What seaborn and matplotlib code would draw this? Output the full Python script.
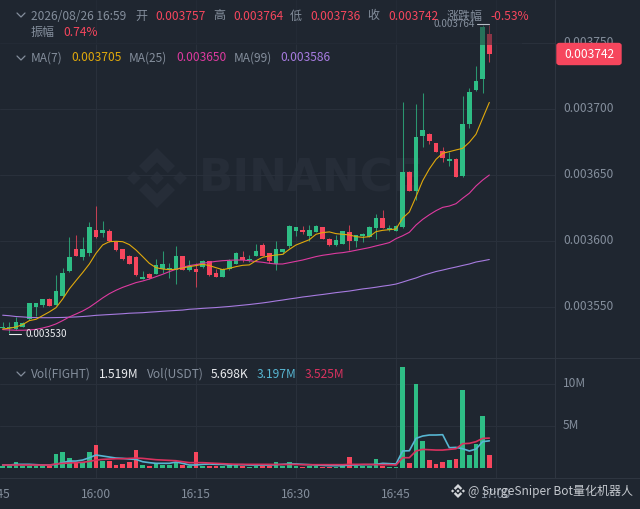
import numpy as np
import pandas as pd
import matplotlib
matplotlib.use("Agg")
import matplotlib.pyplot as plt
from matplotlib.lines import Line2D
from matplotlib.patches import FancyBboxPatch, Polygon, Rectangle
from matplotlib.ticker import FixedLocator
import seaborn as sns

# minutes after 16:00, one candle per minute
minutes = list(range(-14, 60))
# prices in units of 1e-6 USDT
opens = [3533.9,3533.9,3533.1,3535.1,3540.7,3550.3,3551.8,3555.9,3551.8,3558.6,3577.1,3593.7,3587.7,3591.0,
 3608.6,3605.9,3607.6,3599.3,3593.7,3588.7,3587.9,3571.5,3575.0,3575.0,3578.6,3578.1,3578.1,3588.7,3578.3,3578.8,
 3580.1,3584.6,3575.8,3572.8,3578.6,3582.9,3587.9,3585.4,3588.9,3596.8,3590.7,3582.4,3592.0,3596.3,3607.6,3608.4,
 3603.8,3607.1,3610.4,3601.6,3597.0,3597.8,3606.6,3600.0,3603.8,3603.3,3609.9,3617.5,3608.1,3607.8,
 3610.9,3652.5,3637.9,3679.8,3681.3,3674.3,3668.4,3660.9,3662.4,3649.5,3688.7,3714.4,3722.5,3757.0]
highs = [3538.9,3539.0,3542.2,3538.9,3552.8,3553.1,3556.4,3556.6,3574.3,3579.3,3603.3,3604.3,3603.3,3614.4,
 3626.3,3615.2,3609.4,3599.8,3594.2,3589.2,3588.7,3577.3,3575.6,3586.2,3592.5,3583.1,3596.3,3588.7,3585.6,3583.1,
 3585.6,3584.6,3578.6,3579.6,3586.2,3591.5,3592.5,3589.4,3597.5,3598.3,3591.2,3600.3,3594.0,3612.2,3610.9,3611.4,
 3612.2,3612.2,3610.9,3602.1,3604.6,3607.9,3612.4,3604.6,3606.1,3611.2,3620.2,3623.5,3612.2,3611.9,
 3705.5,3652.8,3703.8,3711.9,3682.1,3674.6,3671.5,3667.7,3662.9,3709.9,3715.7,3732.8,3764.0,3764.0]
lows = [3533.9,3530.0,3532.6,3534.6,3540.2,3543.2,3550.3,3550.8,3551.3,3557.4,3576.8,3588.9,3585.6,3588.7,
 3602.6,3603.3,3599.3,3592.5,3585.6,3582.6,3573.8,3571.3,3571.3,3574.8,3575.6,3571.8,3567.5,3578.1,3577.6,3565.5,
 3579.8,3573.5,3572.5,3572.5,3578.1,3582.6,3584.4,3584.4,3588.7,3588.7,3583.1,3578.3,3590.2,3594.5,3604.1,3605.4,
 3600.3,3606.6,3601.3,3596.5,3596.5,3597.5,3593.2,3595.5,3599.3,3602.8,3601.3,3609.6,3607.9,3607.6,
 3610.2,3637.6,3631.1,3671.5,3673.3,3667.4,3660.1,3656.8,3648.3,3648.3,3685.4,3713.9,3711.9,3736.0]
closes = [3535.1,3534.9,3538.9,3537.7,3552.8,3552.8,3555.9,3550.8,3561.9,3575.8,3587.9,3588.9,3593.7,3610.6,
 3602.8,3608.6,3599.8,3593.0,3586.2,3582.9,3574.0,3572.8,3572.0,3581.6,3582.6,3579.6,3588.7,3578.1,3581.1,3576.8,
 3584.9,3574.0,3572.8,3578.6,3584.9,3591.0,3585.6,3586.7,3592.7,3588.9,3584.9,3593.7,3593.7,3611.7,3610.4,3606.9,
 3608.4,3611.7,3601.8,3597.0,3600.8,3607.6,3600.3,3604.3,3605.6,3610.6,3617.5,3609.9,3609.9,3611.4,
 3652.5,3637.9,3678.6,3684.3,3675.8,3667.7,3662.9,3662.4,3648.7,3688.4,3713.1,3721.2,3762.4,3742.0]
ma7 = [3533.4,3533.9,3534.9,3536.7,3539.7,3540.7,3543.5,3546.3,3549.5,3556.1,3563.7,3570.0,3576.1,3582.6,
 3590.7,3597.0,3599.5,3599.8,3599.5,3597.3,3593.2,3588.2,3583.1,3579.8,3578.8,3578.3,3578.6,3579.6,3580.6,3581.4,
 3582.4,3581.4,3579.8,3578.3,3579.3,3580.6,3581.6,3581.9,3585.1,3587.7,3588.7,3589.4,3589.9,3593.7,3597.0,3599.0,
 3601.0,3605.1,3606.4,3606.9,3605.6,3605.1,3604.6,3603.3,3602.8,3603.3,3607.1,3608.1,3608.6,3609.1,
 3617.4,3622.0,3633.6,3645.7,3654.6,3661.9,3666.5,3667.7,3669.0,3670.2,3674.8,3680.9,3693.0,3705.0]
ma25 = [3532.9,3532.6,3532.4,3532.4,3532.6,3533.1,3534.1,3535.4,3537.2,3539.7,3542.5,3544.7,3547.0,3549.8,
 3553.3,3556.9,3560.1,3562.7,3564.9,3566.7,3568.5,3569.7,3571.2,3573.0,3574.8,3576.8,3578.6,3580.1,3581.4,3582.1,
 3583.1,3583.9,3584.6,3585.1,3585.4,3585.6,3585.6,3585.1,3584.4,3583.9,3583.1,3582.6,3582.6,3583.6,3584.6,3585.6,
 3586.9,3588.2,3589.2,3589.9,3590.7,3591.2,3592.0,3593.0,3594.0,3595.0,3596.3,3597.5,3598.8,3601.8,
 3604.0,3606.6,3612.1,3616.4,3619.9,3623.0,3625.5,3626.5,3628.3,3632.4,3636.2,3641.7,3646.2,3650.0]
ma99 = [3543.8,3543.4,3542.8,3542.5,3542.1,3542.0,3541.9,3541.9,3542.0,3542.1,3542.3,3542.5,3542.8,3543.2,
 3543.7,3544.0,3544.3,3544.6,3544.9,3545.3,3545.5,3545.7,3546.1,3546.4,3546.8,3547.1,3547.4,3547.7,3548.3,3548.6,
 3549.0,3549.3,3549.6,3550.0,3550.4,3550.9,3551.4,3551.9,3552.5,3553.1,3553.8,3554.6,3555.3,3556.1,3556.8,3557.6,
 3558.2,3558.9,3559.5,3560.2,3560.9,3561.5,3562.1,3562.9,3563.7,3564.3,3565.0,3565.8,3566.5,3567.4,
 3568.9,3570.5,3572.0,3573.9,3575.4,3576.9,3578.0,3579.2,3580.3,3581.5,3582.6,3584.1,3585.0,3586.0]
# volumes in millions
volume = [.2,.2,.64,.2,.2,.2,.24,.2,1.63,1.87,1.11,.52,.64,1.87,
 2.7,.79,.79,.32,.4,.71,2.1,.28,.2,.52,.32,.36,.64,.28,.24,1.87,
 .24,.24,.2,.24,.28,.32,.16,.12,.2,.16,.16,.67,.2,.67,.16,.12,
 .2,.2,.12,.12,.12,.16,1.31,.2,.2,.24,.99,.2,.12,.12,
 11.95,.6,9.96,3.22,.91,.44,.64,.91,1.03,9.21,1.51,2.78,6.11,1.519]
vol_ma_a = [.32,.32,.40,.40,.40,.36,.32,.32,.40,.60,.79,.79,.91,1.19,
 1.51,1.39,1.27,1.15,1.11,1.03,.99,.71,.60,.52,.52,.52,.67,.52,.32,.32,
 .40,.44,.40,.40,.32,.36,.36,.32,.32,.32,.32,.36,.40,.44,.44,.40,
 .36,.32,.28,.24,.24,.24,.32,.32,.36,.36,.40,.52,.48,.44,
 1.99,2.02,3.49,3.77,3.89,3.89,3.93,2.38,2.42,2.26,1.99,2.22,3.10,3.197]
vol_ma_b = [.32,.32,.32,.32,.32,.32,.32,.32,.44,.52,.56,.60,.64,.75,
 .91,.99,1.03,1.07,1.07,1.11,1.15,1.11,1.03,.95,.91,.87,.83,.71,.60,.60,
 .60,.56,.52,.48,.44,.40,.40,.40,.40,.40,.40,.38,.38,.38,.38,.36,
 .36,.36,.36,.36,.36,.36,.40,.40,.40,.40,.36,.36,.36,.32,
 1.19,1.19,1.99,2.18,2.14,2.10,2.10,2.18,2.26,2.86,2.90,3.10,3.49,3.525]
price_ticks = [3550, 3600, 3650, 3700, 3750]
vol_ticks = [5, 10]
time_ticks = [-15, 0, 15, 30, 45, 60]
time_labels = ["15:45", "16:00", "16:15", "16:30", "16:45", "17:00"]

W, H = 640, 509
BG = "#1F2630"
GRID = "#29303B"
BORDER = "#2E3540"
UP = "#2EBD85"
DOWN = "#F6465D"
MUTED = "#848E9C"
YEL = "#E0A90C"
MAG = "#DE3AA0"
PUR = "#A77BE0"
CY = "#57B6D2"
RVOL = "#D9325F"

sns.set_theme(style="dark", rc={"figure.facecolor": BG, "axes.facecolor": BG})
plt.rcParams["font.family"] = ["Noto Sans CJK SC", "DejaVu Sans"]

df = pd.DataFrame(dict(t=minutes, o=opens, h=highs, l=lows, c=closes, ma7=ma7, ma25=ma25, ma99=ma99,
                       vol=volume, va=vol_ma_a, vb=vol_ma_b))
df["up"] = df.c >= df.o
df["col"] = np.where(df.up, UP, DOWN)

fig = plt.figure(figsize=(W/100, H/100), dpi=100, facecolor=BG)
def axpx(x0, y0, x1, y1):
    return fig.add_axes([x0/W, 1-y1/H, (x1-x0)/W, (y1-y0)/H])
ax = axpx(0, 0, 555, 358)
av = axpx(0, 358, 555, 477.5)

xlim = (-14.4, 68.85)
for a in (ax, av):
    a.set_zorder(1)
    a.patch.set_alpha(0)
    a.set_xlim(*xlim)
    a.xaxis.set_major_locator(FixedLocator(time_ticks))
    a.grid(True, color=GRID, lw=0.75)
    a.set_axisbelow(True)
    for s in a.spines.values():
        s.set_visible(False)

# watermark (behind the marks)
wm = "#262D38"
def fpoly(pts, col=wm, z=0.5):
    fig.add_artist(Polygon([(x/W, 1-y/H) for x, y in pts], closed=True, fc=col, ec="none",
                           transform=fig.transFigure, zorder=z))
def diamond(cx, cy, r, col, z):
    fpoly([(cx, cy-r), (cx+r*.6, cy-r*.4), (cx+r*.36, cy-r*.16), (cx, cy-r*.52), (cx-r*.36, cy-r*.16), (cx-r*.6, cy-r*.4)], col, z=z)
    fpoly([(cx, cy+r), (cx+r*.6, cy+r*.4), (cx+r*.36, cy+r*.16), (cx, cy+r*.52), (cx-r*.36, cy+r*.16), (cx-r*.6, cy+r*.4)], col, z=z)
    fpoly([(cx-r, cy), (cx-r*.77, cy-r*.23), (cx-r*.54, cy), (cx-r*.77, cy+r*.23)], col, z=z)
    fpoly([(cx+r, cy), (cx+r*.77, cy-r*.23), (cx+r*.54, cy), (cx+r*.77, cy+r*.23)], col, z=z)
    fpoly([(cx, cy-r*.23), (cx+r*.23, cy), (cx, cy+r*.23), (cx-r*.23, cy)], col, z=z)
diamond(157, 178, 30, wm, 0.5)
fig.text(199/W, 1-179/H, "BINANCE", color=wm, fontsize=32.5, fontweight="bold", va="center", ha="left",
         family=["DejaVu Sans"], zorder=0.5)

# candles
ax.vlines(df.t, df.l, df.h, colors=df.col, lw=0.75, alpha=0.75, zorder=3)
ax.bar(df.t, (df.c-df.o).abs().clip(lower=0.8), bottom=df[["o", "c"]].min(axis=1), width=0.74, color=df.col, lw=0, zorder=4)
sns.lineplot(data=df, x="t", y="ma99", ax=ax, color=PUR, lw=0.8, zorder=5, legend=False)
sns.lineplot(data=df, x="t", y="ma25", ax=ax, color=MAG, lw=0.8, zorder=5, legend=False)
sns.lineplot(data=df, x="t", y="ma7", ax=ax, color=YEL, lw=0.8, zorder=6, legend=False)
ax.set_ylim(3782.6-358*0.7576, 3782.6)
ax.yaxis.set_major_locator(FixedLocator(price_ticks))
ax.set_xlabel(""); ax.set_ylabel("")
ax.tick_params(labelbottom=False, labelleft=False, length=0)

# volume
for up, col in ((True, UP), (False, DOWN)):
    sub = df[df.up == up]
    sns.barplot(data=sub, x="t", y="vol", ax=av, native_scale=True, color=col, saturation=1, width=0.72,
                linewidth=0, zorder=3, legend=False)
av.set_xlim(*xlim)
sns.lineplot(data=df, x="t", y="va", ax=av, color=CY, lw=1.2, zorder=5, legend=False)
sns.lineplot(data=df, x="t", y="vb", ax=av, color=RVOL, lw=1.2, zorder=6, legend=False)
av.set_ylim(-(477.5-467.7)*5/42, (467.7-358)*5/42)
av.yaxis.set_major_locator(FixedLocator(vol_ticks))
av.set_xlabel(""); av.set_ylabel("")
av.tick_params(labelbottom=False, labelleft=False, length=0)

# frame lines
def fline(x0, y0, x1, y1, col=BORDER, lw=0.8, z=8):
    fig.add_artist(Line2D([x0/W, x1/W], [1-y0/H, 1-y1/H], color=col, lw=lw, transform=fig.transFigure, zorder=z))
fline(0, 358, W, 358)
fline(0, 477.5, W, 477.5)
fline(555, 0, 555, 477.5)

# dim band over the top of the plot
fig.add_artist(Rectangle((0, 1-45/H), 522/W, 45/H, fc=BG, ec="none", alpha=.5, transform=fig.transFigure, zorder=9))

def txt(x, y, s, col=MUTED, size=8.64, ha="left", z=12, **kw):
    return fig.text(x/W, 1-y/H, s, color=col, fontsize=size, ha=ha, va="center", zorder=z, **kw)

for p, y in zip(price_ticks, (306.5, 240.5, 174.5, 109, 43)):
    txt(563, y, f"0.00{p}", z=10)
for v, y in zip(vol_ticks, (425.7, 383.7)):
    txt(563, y, f"{v}M")
for t, lab in zip(time_ticks, time_labels):
    txt(96+t*100/15, 494, lab, ha="center", z=10)

# price tag
fig.add_artist(FancyBboxPatch((557/W, 1-64.5/H), 64/W, 21/H, boxstyle="round,pad=0,rounding_size=0.004",
                              fc=DOWN, ec=DOWN, lw=1, transform=fig.transFigure, zorder=11))
txt(589, 54, "0.003742", "#FFFFFF", ha="center")

# extreme labels
txt(475, 24, "0.003764", MUTED, 7.2, ha="right")
fline(477, 23.5, 489, 23.5, "#B7BDC6", 0.8, 12)
fline(9, 333.5, 21, 333.5, "#EAECEF", 0.8, 12)
txt(25, 334, "0.003530", "#EAECEF", 7.2)

# header rows
row1 = [(31,"2026/08/26 16:59",MUTED),(135,"开",MUTED),(155,"0.003757",DOWN),(213,"高",MUTED),(233,"0.003764",DOWN),
        (290,"低",MUTED),(310,"0.003736",DOWN),(367,"收",MUTED),(388,"0.003742",DOWN),(447,"涨跌幅",MUTED),(490,"-0.53%",DOWN)]
for x, s, c in row1: txt(x, 16, s, c)
for x, s, c in [(31,"振幅",MUTED),(63,"0.74%",DOWN)]: txt(x, 32, s, c)
for x, s, c in [(31,"MA(7)",MUTED),(71,"0.003705",YEL),(129,"MA(25)",MUTED),(176,"0.003650",MAG),(234,"MA(99)",MUTED),(280,"0.003586",PUR)]:
    txt(x, 58, s, c)
for x, s, c in [(31,"Vol(FIGHT)",MUTED),(99,"1.519M","#EAECEF"),(147,"Vol(USDT)",MUTED),(211,"5.698K","#EAECEF"),(257,"3.197M",CY),(305,"3.525M",RVOL)]:
    txt(x, 374, s, c)
for y in (15, 58, 374):
    fig.add_artist(Line2D([17/W, 21/W, 25/W], [1-(y-2)/H, 1-(y+2)/H, 1-(y-2)/H], color=MUTED, lw=0.9, transform=fig.transFigure, zorder=12))

# site mark
diamond(458, 491, 7, "#D5D8DC", 13)
txt(468, 491, "@ SurgeSniper Bot量化机器人", "#C4C8CE", 8.64, z=14)

fig.savefig("out.png", dpi=100, facecolor=BG)
